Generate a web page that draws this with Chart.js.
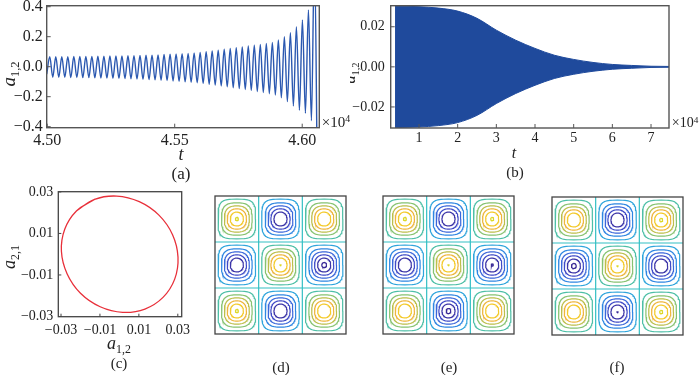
<!DOCTYPE html>
<html>
<head>
<meta charset="utf-8">
<script src="https://cdn.jsdelivr.net/npm/chart.js@4.4.0/dist/chart.umd.min.js"></script>
<style>
body{margin:0;background:#fff;}
#fig{position:relative;width:700px;height:375px;overflow:hidden;background:#fff;
  font-family:'Liberation Serif','DejaVu Serif',serif;color:#222;}
#fig canvas{position:absolute;}
.lbl{position:absolute;white-space:nowrap;transform:translate(-50%,-50%);line-height:1;}
.rot{transform:translate(-50%,-50%) rotate(-90deg);}
.lbl i{font-style:italic;}
.lbl sub{font-size:0.66em;vertical-align:-0.35em;}
.lbl sup{font-size:0.66em;vertical-align:0.45em;}
.clip{position:absolute;overflow:hidden;}
</style>
</head>
<body>
<div id="fig">
  <canvas id="ca" width="330" height="160" style="left:0;top:0"></canvas>
  <canvas id="cb" width="325" height="160" style="left:350px;top:0"></canvas>
  <canvas id="cc" width="200" height="165" style="left:0;top:180px"></canvas>
  <canvas id="cd" width="133" height="140" style="left:214px;top:195px"></canvas>
  <canvas id="ce" width="133" height="140" style="left:382px;top:195px"></canvas>
  <canvas id="cf" width="133" height="140" style="left:551px;top:196px"></canvas>

  <div class="lbl rot" style="left:10px;top:74px;font-size:19px"><i>a</i><sub>1,2</sub></div>
  <div class="lbl" style="left:181px;top:154px;font-size:18px"><i>t</i></div>
  <div class="lbl" style="left:181px;top:173px;font-size:17px">(a)</div>
  <div class="lbl" style="left:336px;top:122px;font-size:15px">×10<sup>4</sup></div>

  <div class="clip" style="left:350px;top:40px;width:20px;height:70px">
    <div class="lbl rot" style="left:2px;top:33px;font-size:16px"><i>a</i><sub>1,2</sub></div>
  </div>
  <div class="lbl" style="left:514px;top:153px;font-size:16px"><i>t</i></div>
  <div class="lbl" style="left:515px;top:172px;font-size:15px">(b)</div>
  <div class="lbl" style="left:685px;top:123px;font-size:14px">×10<sup>4</sup></div>

  <div class="lbl rot" style="left:11px;top:257px;font-size:18px"><i>a</i><sub>2,1</sub></div>
  <div class="lbl" style="left:119px;top:345px;font-size:18px"><i>a</i><sub>1,2</sub></div>
  <div class="lbl" style="left:119px;top:363px;font-size:15px">(c)</div>

  <div class="lbl" style="left:281px;top:367px;font-size:15px">(d)</div>
  <div class="lbl" style="left:449px;top:367px;font-size:15px">(e)</div>
  <div class="lbl" style="left:617px;top:367px;font-size:15px">(f)</div>
</div>

<script>
// ===== Data =====
// (a) oscillation of a_{1,2}, t in units of 1e4
const aXTicks = [4.50, 4.55, 4.60];
const aYTicks = [-0.4, -0.2, 0.0, 0.2, 0.4];
const aStart = {x: 4.4998, y: -0.05};
const aFirstPeak = 4.5010;
const aPeriod = 0.002359;
const aPeaks = [0.066,0.067,0.067,0.067,0.068,0.068,0.069,0.069,0.070,0.070,
                0.071,0.072,0.072,0.073,0.074,0.075,0.076,0.077,
                0.079,0.081,0.083,0.085,0.087,0.089,0.092,0.095,
                0.100,0.105,0.110,0.116,0.121,0.127,
                0.132,0.138,0.143,0.149,0.155,0.162,
                0.178,0.200,0.227,0.267,0.311,0.378];
const aTroughs = [-0.070,-0.071,-0.071,-0.072,-0.072,-0.073,-0.073,-0.074,-0.075,-0.076,
                  -0.077,-0.078,-0.079,-0.080,-0.082,-0.084,-0.086,-0.088,
                  -0.090,-0.092,-0.095,-0.098,-0.101,-0.104,-0.107,-0.111,
                  -0.117,-0.122,-0.128,-0.134,-0.140,-0.146,
                  -0.152,-0.158,-0.165,-0.172,-0.180,-0.189,
                  -0.207,-0.233,-0.262,-0.290,-0.310,-0.360];
const aTailT = [4.6048, 4.6060];
const aTailV = [0.75, -0.90];

// (b) envelope of the dense oscillation
const bXTicks = [1, 2, 3, 4, 5, 6, 7];
const bYTicks = [-0.02, 0.00, 0.02];
const bT     = [0.38, 1, 1.5, 2, 2.5, 3, 3.5, 4, 4.5, 5, 5.5, 6, 6.5, 7, 7.47];
const bUpper = [0.0303, 0.0300, 0.0293, 0.0278, 0.0242, 0.0183, 0.0133, 0.0092, 0.0058, 0.0037, 0.0022, 0.0012, 0.0007, 0.0003, 0.0002];
const bLower = [-0.0303, -0.0300, -0.0293, -0.0278, -0.0242, -0.0183, -0.0133, -0.0092, -0.0058, -0.0037, -0.0022, -0.0012, -0.0007, -0.0003, -0.0002];

// (c) phase portrait a_{1,2} vs a_{2,1}
const cTicks = [-0.03, -0.01, 0.01, 0.03];
const cX = [-0.0221, -0.0128, -0.0014, 0.0102, 0.0203, 0.0273, 0.0301, 0.0284,
            0.0224, 0.0131, 0.0017, -0.0099, -0.0200, -0.0269, -0.0298, -0.0281];
const cY = [0.0208, 0.0264, 0.0280, 0.0253, 0.0188, 0.0094, -0.0014, -0.0120,
            -0.0208, -0.0264, -0.0280, -0.0253, -0.0188, -0.0094, 0.0014, 0.0120];

// (d)(e)(f) contour patterns, cells row by row from the top
const cellSign = [1, -1, 1, -1, 1, -1, 1, -1, 1];
const ringSize = [0.86, 0.70, 0.57, 0.44, 0.30];   // fraction of half a cell
const ringSquare = [3.8, 3.0, 2.6, 2.3, 2.1];
const cellBounds = [1, 2];
const dDots = [0.07, 0, 0,    0, 0.025, 0.11,   0.07, 0, 0];
const eDots = [0.07, 0, 0.07, 0, 0.025, 0.05,   0, 0.11, 0];
const fDots = [0, 0, 0.07,    0.11, 0.025, 0,   0, 0.025, 0.07];

const posColors = ['#4dbfa6', '#86c270', '#bcbe4a', '#eeb53c', '#f3ca2c', '#dcd828'];
const negColors = ['#2fa5dc', '#2e86e2', '#3a66da', '#3f4ac6', '#3d36a8', '#3a2a96'];
const zeroColor = '#33bfc4';

// ===== Shared setup =====
Chart.defaults.font.family = "'Liberation Serif','DejaVu Serif',serif";
Chart.defaults.color = '#222';
Chart.defaults.animation = false;

const minus = (s) => s.replace('-', '\u2212');

// frame box + short inward tick marks
const framePlugin = {
    id: 'frame',
    afterDraw(chart, args, opts) {
        const ctx = chart.ctx, a = chart.chartArea;
        ctx.save();
        ctx.strokeStyle = opts.color || '#555';
        if (opts.tick) {
            ctx.beginPath();
            chart.scales.x.ticks.forEach(t => {
                const px = chart.scales.x.getPixelForValue(t.value);
                ctx.moveTo(px, a.bottom);
                ctx.lineTo(px, a.bottom - opts.tick);
            });
            chart.scales.y.ticks.forEach(t => {
                const py = chart.scales.y.getPixelForValue(t.value);
                ctx.moveTo(a.left, py);
                ctx.lineTo(a.left + opts.tick, py);
            });
            ctx.lineWidth = 1;
            ctx.stroke();
        }
        ctx.lineWidth = opts.width || 1.3;
        ctx.strokeRect(a.left, a.top, a.right - a.left, a.bottom - a.top);
        ctx.restore();
    }
};

function axis(min, max, ticks, fmt, size, pad, key, val) {
    return {
        type: 'linear', min, max,
        afterBuildTicks: s => { s.ticks = ticks.map(v => ({value: v})); },
        afterFit: s => {
            s[key] = val;
            s.paddingTop = 0; s.paddingBottom = 0;
            s.paddingLeft = 0; s.paddingRight = 0;
        },
        ticks: {callback: fmt, font: {size}, padding: pad, maxRotation: 0, autoSkip: false, color: '#222'},
        grid: {display: false, drawTicks: false},
        border: {display: false}
    };
}

function baseOptions(padding, scales, frame) {
    return {
        responsive: false,
        devicePixelRatio: 1,
        layout: {padding},
        scales,
        plugins: {legend: {display: false}, tooltip: {enabled: false}, frame}
    };
}

// ===== (a) =====
const aData = [aStart];
aPeaks.forEach((p, k) => {
    aData.push({x: aFirstPeak + k * aPeriod, y: p});
    aData.push({x: aFirstPeak + (k + 0.5) * aPeriod, y: aTroughs[k]});
});
aTailT.forEach((t, i) => aData.push({x: t, y: aTailV[i]}));

new Chart(document.getElementById('ca'), {
    type: 'line',
    data: {datasets: [{
        data: aData, borderColor: '#2b58b0', borderWidth: 1.4, pointRadius: 0,
        cubicInterpolationMode: 'monotone', clip: 0
    }]},
    options: baseOptions({left: 0, top: 5.7, right: 10.7, bottom: 0}, {
        x: axis(4.4998, 4.6067, aXTicks, v => v.toFixed(2), 16, 3, 'height', 32.3),
        y: axis(-0.4067, 0.4067, aYTicks, v => minus(v.toFixed(1)), 16, 4, 'width', 46.7)
    }, {color: '#555', width: 1.4, tick: 4}),
    plugins: [framePlugin]
});

// ===== (b) =====
new Chart(document.getElementById('cb'), {
    type: 'line',
    data: {datasets: [
        {data: bT.map((t, i) => ({x: t, y: bUpper[i]})), fill: '+1',
         backgroundColor: '#1f4a9c', borderColor: '#1f4a9c', borderWidth: 1,
         pointRadius: 0, cubicInterpolationMode: 'monotone', clip: 0},
        {data: bT.map((t, i) => ({x: t, y: bLower[i]})), fill: false,
         borderColor: '#1f4a9c', borderWidth: 1,
         pointRadius: 0, cubicInterpolationMode: 'monotone', clip: 0}
    ]},
    options: baseOptions({left: 0, top: 5.7, right: 6, bottom: 0}, {
        x: axis(0.268, 7.465, bXTicks, v => String(v), 14, 2, 'height', 32),
        y: axis(-0.0305, 0.0305, bYTicks, v => minus(v.toFixed(2)), 14, 6, 'width', 40.7)
    }, {color: '#555', width: 1.4, tick: 4}),
    plugins: [framePlugin]
});

// ===== (c) =====
const cData = cX.map((x, i) => ({x, y: cY[i]}));
cData.push(cData[0], cData[1]);

new Chart(document.getElementById('cc'), {
    type: 'scatter',
    data: {datasets: [{
        data: cData, showLine: true, borderColor: '#e8303a', borderWidth: 1.3,
        pointRadius: 0, tension: 0.4
    }]},
    options: baseOptions({left: 0, top: 11.7, right: 18.3, bottom: 0}, {
        x: axis(-0.0314, 0.0320, cTicks, v => minus(v.toFixed(2)), 14, 5, 'height', 28.3),
        y: axis(-0.0301, 0.0301, cTicks, v => minus(v.toFixed(2)), 14, 5, 'width', 58.3)
    }, {color: '#444', width: 1.3, tick: 3}),
    plugins: [framePlugin]
});

// ===== (d)(e)(f) contours =====
function ring(cx, cy, half, n) {
    const pts = [];
    for (let i = 0; i <= 72; i++) {
        const t = 2 * Math.PI * i / 72, c = Math.cos(t), s = Math.sin(t);
        pts.push({
            x: cx + half * Math.sign(c) * Math.pow(Math.abs(c), 2 / n),
            y: cy + half * Math.sign(s) * Math.pow(Math.abs(s), 2 / n)
        });
    }
    return pts;
}

function lineSet(data, color) {
    return {data, showLine: true, borderColor: color, borderWidth: 1.2, pointRadius: 0, tension: 0};
}

function contourSets(dots) {
    const sets = [];
    cellBounds.forEach(b => {
        sets.push(lineSet([{x: b, y: 0}, {x: b, y: 3}], zeroColor));
        sets.push(lineSet([{x: 0, y: b}, {x: 3, y: b}], zeroColor));
    });
    cellSign.forEach((sg, i) => {
        const cx = i % 3 + 0.5, cy = 2.5 - Math.floor(i / 3);
        const cols = sg > 0 ? posColors : negColors;
        ringSize.forEach((r, k) => sets.push(lineSet(ring(cx, cy, r * 0.5, ringSquare[k]), cols[k])));
        if (dots[i] > 0) sets.push(lineSet(ring(cx, cy, dots[i] * 0.5, 2), cols[5]));
    });
    return sets;
}

[['cd', dDots], ['ce', eDots], ['cf', fDots]].forEach(([id, dots]) => {
    new Chart(document.getElementById(id), {
        type: 'scatter',
        data: {datasets: contourSets(dots)},
        options: baseOptions(1, {
            x: {type: 'linear', min: 0, max: 3, display: false},
            y: {type: 'linear', min: 0, max: 3, display: false}
        }, {color: '#444', width: 1.3, tick: 0}),
        plugins: [framePlugin]
    });
});
</script>
</body>
</html>
